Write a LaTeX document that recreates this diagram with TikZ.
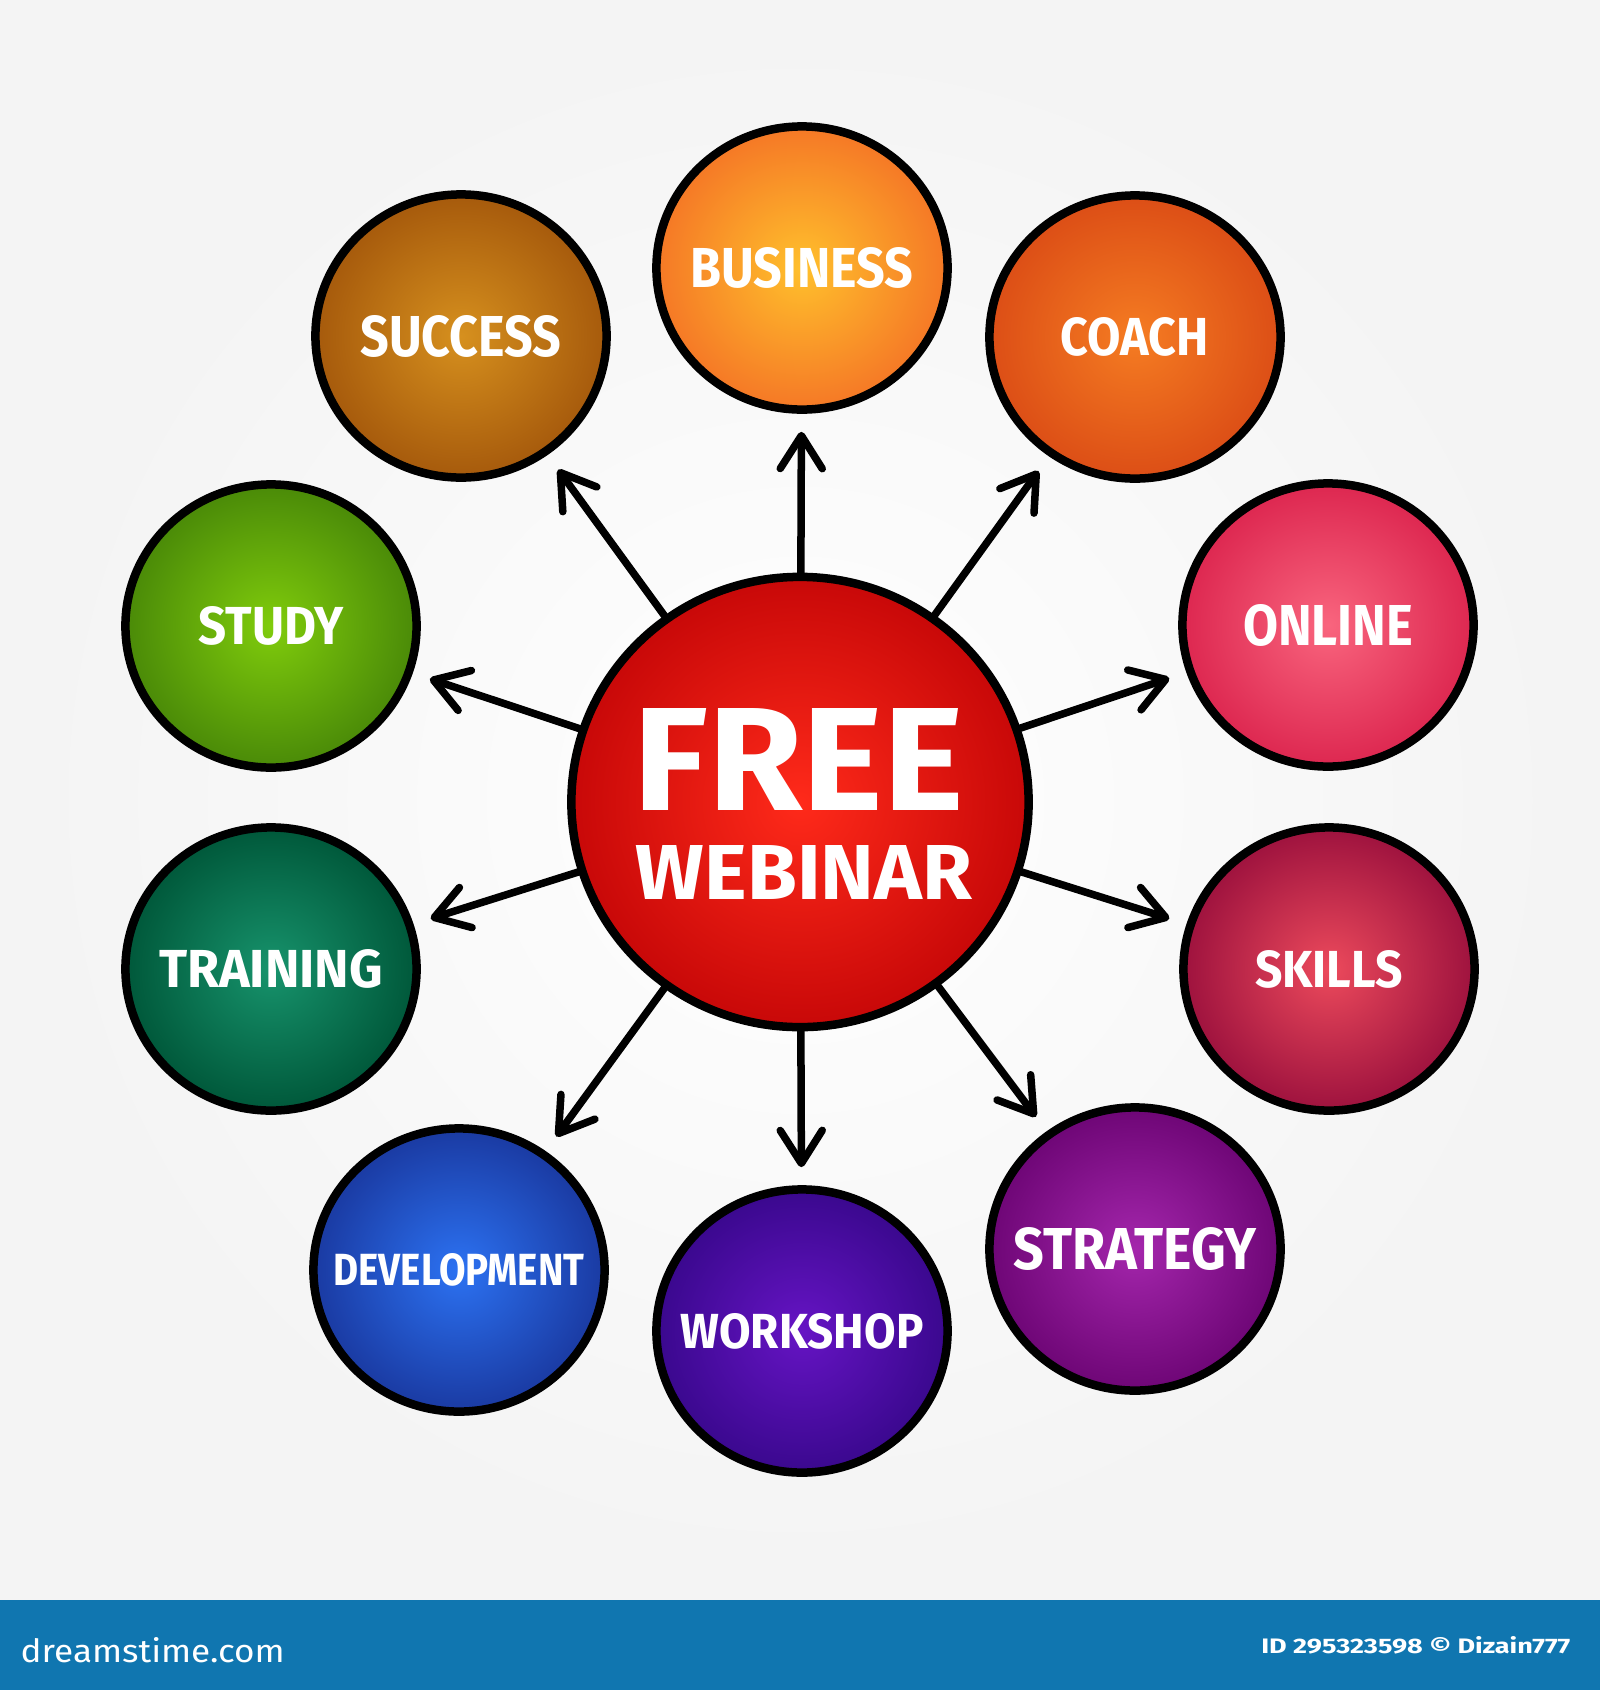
\documentclass[tikz,border=0pt]{standalone}
\usepackage{fontspec}
\setmainfont{Fira Sans}
\usepackage{graphicx}
\usetikzlibrary{shapes.geometric,arrows.meta}

\newlength\pxu
\setlength\pxu{0.01cm}

\definecolor{barblue}{RGB}{16,118,176}
\definecolor{hubin}{HTML}{FF2A1A}
\definecolor{hubout}{HTML}{C80808}

\tikzset{%
        every topic/.style={
            ellipse,
            draw=black,
            line width=0.085cm,
            minimum width=2.91cm,
            minimum height=2.83cm,
            inner sep=0pt
        },
        hub/.style={
            every topic,
            minimum width=4.57cm,
            minimum height=4.50cm
        },
        topic text/.style={
            inner sep=0pt,
            text=white,
            font=\bfseries
        },
        link/.style={
            -{Straight Barb[length=0.33cm,width=0.42cm,round]},
            line width=0.075cm,
            line cap=round,
            shorten >=0.18cm
        }
    }

\begin{document}
\begin{tikzpicture}[x=0.01cm, y=-0.01cm]

        \useasboundingbox (0,0) rectangle (1600,1690);
        \shade[inner color=white, outer color=gray!9] (0,0) rectangle (1600,1600);

        % centre
        \node [hub, inner color=hubin, outer color=hubout] (hub) at (800,802) {};
        \node [topic text] (free) at (799,759) {\resizebox{330\pxu}{102\pxu}{FREE}};
        \node [topic text] (webinar) at (804,872) {\resizebox{336\pxu}{54\pxu}{WEBINAR}};

        % topics round it
        \foreach \n/\px/\py/\ci/\co/\t/\w/\h in {
            success/461/336/D6901E/A65A0C/SUCCESS/201/41,
            business/802/268/FFC02C/F57826/BUSINESS/223/40,
            coach/1135/337/F57C22/DC4E16/COACH/148/38,
            online/1328/625/F9657E/DD2750/ONLINE/170/41,
            skills/1329/969/EC4A5C/9E123E/SKILLS/148/37,
            strategy/1135/1249/A426AC/6E0676/STRATEGY/243/42,
            workshop/802/1331/6614C4/3A088E/WORKSHOP/243/35,
            development/459/1270/2C72F2/1A3AA2/DEVELOPMENT/251/32,
            training/271/969/17936C/00583A/TRAINING/224/38,
            study/271/626/80CC0C/4A8A08/STUDY/145/38}
        {
            \definecolor{topicin}{HTML}{\ci}
            \definecolor{topicout}{HTML}{\co}
            \node [every topic, inner color=topicin, outer color=topicout] (\n) at (\px,\py) {};
            \node [topic text] at (\n) {\resizebox{\w\pxu}{\h\pxu}{\t}};
        }

        \foreach \n in {success,business,coach,online,skills,strategy,workshop,development,training,study}
            \draw [link] (hub) -- (\n);

        % footer bar
        \fill [barblue] (0,1600) rectangle (1600,1690);
        \node [topic text, font=\normalfont, anchor=west] (site) at (20,1650) {\resizebox{264\pxu}{25\pxu}{dreamstime.com}};
        \node [topic text, anchor=east] (credit) at (1571,1645) {\resizebox{309\pxu}{17\pxu}{ID 295323598 © Dizain777}};

\end{tikzpicture}
\end{document}
